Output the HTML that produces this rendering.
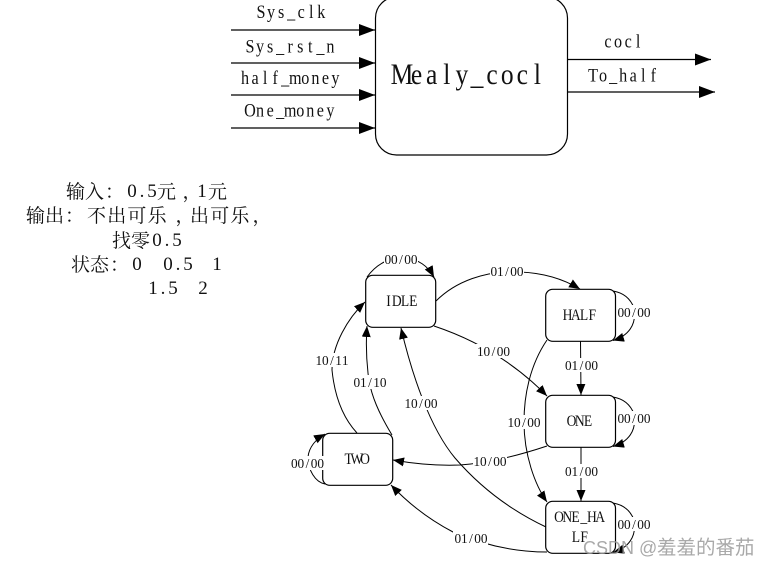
<!DOCTYPE html>
<html><head><meta charset="utf-8">
<style>
html,body{margin:0;padding:0;background:#fff;width:770px;height:565px;overflow:hidden}
svg{display:block}
text{fill:#111}
.t{font-family:"Liberation Serif",serif;font-size:19px;text-anchor:middle}
.c{font-family:"Liberation Serif",serif;font-size:19px;text-anchor:middle}
.z{font-family:"Noto Serif CJK SC","Liberation Serif",serif;font-size:19px}
.l{font-family:"Liberation Serif",serif;font-size:14px;text-anchor:middle}
.n{font-family:"Liberation Serif",serif;font-size:16px;text-anchor:middle}
.e{fill:none;stroke:#000;stroke-width:1;marker-end:url(#a)}
.E{fill:none;stroke:#000;stroke-width:1.2;marker-end:url(#A)}
.b{fill:#fff;stroke:#000;stroke-width:1.2}
</style></head>
<body>
<svg width="770" height="565" viewBox="0 0 770 565" xmlns="http://www.w3.org/2000/svg">
<defs>
<marker id="a" markerUnits="userSpaceOnUse" markerWidth="13" markerHeight="10" refX="11" refY="4.5" orient="auto"><path d="M0,0L11,4.5L0,9z" fill="#000"/></marker>
<marker id="A" markerUnits="userSpaceOnUse" markerWidth="18" markerHeight="14" refX="16" refY="6" orient="auto"><path d="M0,0L16,6L0,12z" fill="#000"/></marker>
</defs>

<!-- top block -->
<rect class="b" x="375.5" y="-3" width="192" height="158" rx="21"/>
<path class="E" d="M231,30H375"/><path class="E" d="M231,63H375"/><path class="E" d="M231,95H375"/><path class="E" d="M231,128H375"/>
<path class="E" d="M568,59.5H711"/><path class="E" d="M568,92H715"/>
<text class="t" transform="translate(256,18) scale(.85,1)" x="5.900 17.700 29.600 41.400 53.200 65 76.800">Sys_clk</text>
<text class="t" transform="translate(245,52.500) scale(.85,1)" x="5.900 17.700 29.600 41.400 53.200 65 76.800 88.700 100.500">Sys_rst_n</text>
<text class="t" transform="translate(240,84) scale(.85,1)" x="5.900 17.700 29.600 41.400 53.200 65 76.800 88.700 100.500 112.300">half_money</text>
<text class="t" transform="translate(245,116.500) scale(.85,1)" x="5.900 17.700 29.600 41.400 53.200 65 76.800 88.700 100.500">One_money</text>
<text class="t" transform="translate(603,47.500) scale(.85,1)" x="5.900 17.700 29.600 41.400">cocl</text>
<text class="t" transform="translate(588,81.500) scale(.85,1)" x="5.900 17.700 29.600 41.400 53.200 65 76.800">To_half</text>
<text class="t" style="font-size:30px" transform="scale(.85,1)" x="472.900 490.100 507.900 525.600 543.400 561.200 578.900 596.700 614.500 632.200" y="84">Mealy_cocl</text>

<!-- description -->
<text class="z" x="66" y="198">输入</text><text class="z" x="105" y="198">：</text><text class="c" x="132 142 152" y="197">0.5</text><text class="z" x="157" y="198">元</text><text class="z" x="182.500" y="198">，</text><text class="c" x="202" y="197">1</text><text class="z" x="208" y="198">元</text>
<text class="z" x="26" y="222">输出</text><text class="z" x="65" y="222">：</text><text class="z" x="87" y="222" letter-spacing="1.2">不出可乐</text><text class="z" x="175.500" y="222">，</text><text class="z" x="190" y="222" letter-spacing="1.2">出可乐</text><text class="z" x="252.500" y="222">，</text>
<text class="z" x="112" y="247">找零</text><text class="c" x="157 167 177" y="246">0.5</text>
<text class="z" x="71" y="271">状态</text><text class="z" x="110" y="271">：</text><text class="c" x="137" y="270">0</text><text class="c" x="168 178 188" y="270">0.5</text><text class="c" x="217" y="270">1</text>
<text class="c" x="153 163 173" y="294">1.5</text><text class="c" x="203" y="294">2</text>

<!-- edges -->
<path class="e" d="M367,277C378,262 392,257 405,258C418,259 428,266 434,277"/>
<path class="e" d="M436,301C455,282 485,270 520,272C545,273 565,280 580,289"/>
<path class="e" d="M434,326C470,338 510,358 547,396"/>
<path class="e" d="M580.5,341L581,395"/>
<path class="e" d="M581,447L581,501"/>
<path class="e" d="M547,340C530,365 524,395 524,422C524,455 535,485 547,502"/>
<path class="e" d="M547,446C520,455 490,463 460,465C435,466 410,463 393,460"/>
<path class="e" d="M547,552C520,552 488,547 453,532C430,520 408,503 391,485"/>
<path class="e" d="M546,527C510,510 480,487 455,458C430,428 412,375 401,328"/>
<path class="e" d="M392,435C380,415 370,395 368,373C366,355 366,340 367,326"/>
<path class="e" d="M357,433C345,420 335,400 332,370C332,345 348,318 365,302"/>
<path class="e" d="M325,484C315,482 308,470 308,457C309,447 316,439 325,434"/>
<path class="e" d="M613,291C625,293 631,300 634,308C637,325 628,336 613,340.500"/>
<path class="e" d="M613,397C625,399 631,406 634,414C637,431 628,442 613,446.500"/>
<path class="e" d="M613,503C625,505 631,512 634,520C637,537 628,548 613,552.500"/>

<!-- nodes -->
<rect class="b" x="365.7" y="275.3" width="70" height="52" rx="7"/>
<rect class="b" x="545.7" y="289.3" width="69.8" height="52" rx="7"/>
<rect class="b" x="545.7" y="395.3" width="69.8" height="52" rx="7"/>
<rect class="b" x="545.7" y="501.3" width="69.8" height="52" rx="7"/>
<rect class="b" x="322.7" y="433.3" width="70" height="52" rx="7"/>
<text class="n" transform="translate(384.500,306) scale(.85,1)" x="4.800 14.500 24.100 33.800">IDLE</text>
<text class="n" transform="translate(563.500,320) scale(.85,1)" x="4.800 14.500 24.100 33.800">HALF</text>
<text class="n" transform="translate(567.500,426) scale(.85,1)" x="4.800 14.500 24.100">ONE</text>
<text class="n" transform="translate(555,522) scale(.85,1)" x="4.800 14.500 24.100 33.800 43.400 53.100">ONE_HA</text>
<text class="n" transform="translate(571.800,542) scale(.85,1)" x="4.800 14.500">LF</text>
<text class="n" transform="translate(344.500,464) scale(.85,1)" x="4.800 14.500 24.100">TWO</text>

<!-- edge labels -->
<g fill="#fff">
<rect x="384" y="252" width="34" height="13"/>
<rect x="490" y="264" width="34" height="13"/>
<rect x="476" y="344" width="35" height="14"/>
<rect x="564" y="358" width="35" height="14"/>
<rect x="564" y="464" width="35" height="14"/>
<rect x="507" y="415" width="34" height="14"/>
<rect x="473" y="454" width="34" height="14"/>
<rect x="453" y="531" width="35" height="14"/>
<rect x="404" y="396" width="34" height="14"/>
<rect x="353" y="375" width="34" height="14"/>
<rect x="315" y="353" width="34" height="14"/>
<rect x="291" y="456" width="34" height="14"/>
<rect x="617" y="305" width="34" height="14"/>
<rect x="617" y="411" width="34" height="14"/>
<rect x="617" y="517" width="34" height="14"/>
</g>
<text class="l" transform="translate(384.500,264) scale(.95,1)" x="3.500 10.400 17.400 24.300 31.300">00/00</text>
<text class="l" transform="translate(490.500,276) scale(.95,1)" x="3.500 10.400 17.400 24.300 31.300">01/00</text>
<text class="l" transform="translate(477,356) scale(.95,1)" x="3.500 10.400 17.400 24.300 31.300">10/00</text>
<text class="l" transform="translate(565,370) scale(.95,1)" x="3.500 10.400 17.400 24.300 31.300">01/00</text>
<text class="l" transform="translate(565,476) scale(.95,1)" x="3.500 10.400 17.400 24.300 31.300">01/00</text>
<text class="l" transform="translate(507.500,427) scale(.95,1)" x="3.500 10.400 17.400 24.300 31.300">10/00</text>
<text class="l" transform="translate(473.500,466) scale(.95,1)" x="3.500 10.400 17.400 24.300 31.300">10/00</text>
<text class="l" transform="translate(454.500,543) scale(.95,1)" x="3.500 10.400 17.400 24.300 31.300">01/00</text>
<text class="l" transform="translate(404.500,408) scale(.95,1)" x="3.500 10.400 17.400 24.300 31.300">10/00</text>
<text class="l" transform="translate(353.500,387) scale(.95,1)" x="3.500 10.400 17.400 24.300 31.300">01/10</text>
<text class="l" transform="translate(315.500,365) scale(.95,1)" x="3.500 10.400 17.400 24.300 31.300">10/11</text>
<text class="l" transform="translate(291,468) scale(.95,1)" x="3.500 10.400 17.400 24.300 31.300">00/00</text>
<text class="l" transform="translate(617.500,317) scale(.95,1)" x="3.500 10.400 17.400 24.300 31.300">00/00</text>
<text class="l" transform="translate(617.500,423) scale(.95,1)" x="3.500 10.400 17.400 24.300 31.300">00/00</text>
<text class="l" transform="translate(617.500,529) scale(.95,1)" x="3.500 10.400 17.400 24.300 31.300">00/00</text>

<!-- watermark -->
<text x="583" y="554" style="font-family:'Liberation Sans',sans-serif;font-size:18px;fill:#9a9a9a;fill-opacity:.85">CSDN @</text>
<text x="657" y="554" style="font-family:'Noto Sans CJK SC',sans-serif;font-size:19.5px;fill:#9a9a9a;fill-opacity:.85">羞羞的番茄</text>
</svg>
</body></html>
